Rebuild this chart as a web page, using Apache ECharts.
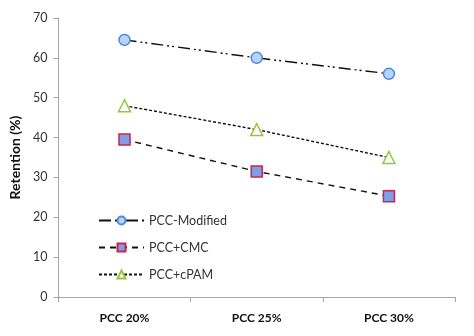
<!DOCTYPE html>
<html><head><meta charset="utf-8">
<script src="https://cdn.jsdelivr.net/npm/echarts@6/dist/echarts.min.js"></script>
<style>html,body{margin:0;padding:0;background:#fff}#c{width:474px;height:336px}</style>
</head><body><div id="c"></div>
<script>
const categories = ['PCC 20%', 'PCC 25%', 'PCC 30%'];
const modified = [64.5, 60, 56];
const cmc = [39.5, 31.5, 25.3];
const cpam = [48, 42, 35];
const seriesNames = ['PCC-Modified', 'PCC+CMC', 'PCC+cPAM'];

const chart = echarts.init(document.getElementById('c'));
const font = 'Lato, "Open Sans", sans-serif';
chart.setOption({
  animation: false,
  grid: { left: 58, right: 19, top: 18, bottom: 39 },
  legend: {
    orient: 'vertical', left: 93, top: 209, itemGap: 14,
    itemWidth: 45, itemHeight: 10,
    textStyle: { fontFamily: font, fontSize: 12.5, color: '#333' },
    data: seriesNames
  },
  xAxis: {
    type: 'category', data: categories, boundaryGap: true,
    axisLine: { lineStyle: { color: '#a6a6a6' } },
    axisTick: { show: true, length: 5, alignWithLabel: false, lineStyle: { color: '#a6a6a6' } },
    axisLabel: { fontFamily: font, fontWeight: 'bold', fontSize: 12, color: '#111', margin: 15 }
  },
  yAxis: {
    type: 'value', min: 0, max: 70, interval: 10,
    name: 'Retention (%)', nameLocation: 'middle', nameGap: 35,
    nameTextStyle: { fontFamily: font, fontWeight: 'bold', fontSize: 14, color: '#111' },
    axisLine: { show: true, lineStyle: { color: '#a6a6a6' } },
    axisTick: { show: true, length: 5, lineStyle: { color: '#a6a6a6' } },
    splitLine: { show: false },
    axisLabel: { fontFamily: font, fontSize: 12.5, color: '#333', margin: 11 }
  },
  series: [
    {
      name: seriesNames[0], type: 'line', data: modified,
      symbol: 'circle', symbolSize: 11,
      itemStyle: { color: '#b8d3f7', borderColor: '#4a8ae6', borderWidth: 1.5 },
      lineStyle: { color: '#111', width: 1.4, type: [12, 4, 2, 3, 2, 4] }
    },
    {
      name: seriesNames[1], type: 'line', data: cmc,
      symbol: 'rect', symbolSize: 11,
      itemStyle: { color: '#7f9ee8', borderColor: '#c8264f', borderWidth: 1.5 },
      lineStyle: { color: '#111', width: 1.4, type: [6, 5] }
    },
    {
      name: seriesNames[2], type: 'line', data: cpam,
      symbol: 'triangle', symbolSize: 12,
      itemStyle: { color: '#ffffff', borderColor: '#94c83c', borderWidth: 1.5 },
      lineStyle: { color: '#111', width: 1.4, type: [3, 2] }
    }
  ]
});
</script></body></html>
